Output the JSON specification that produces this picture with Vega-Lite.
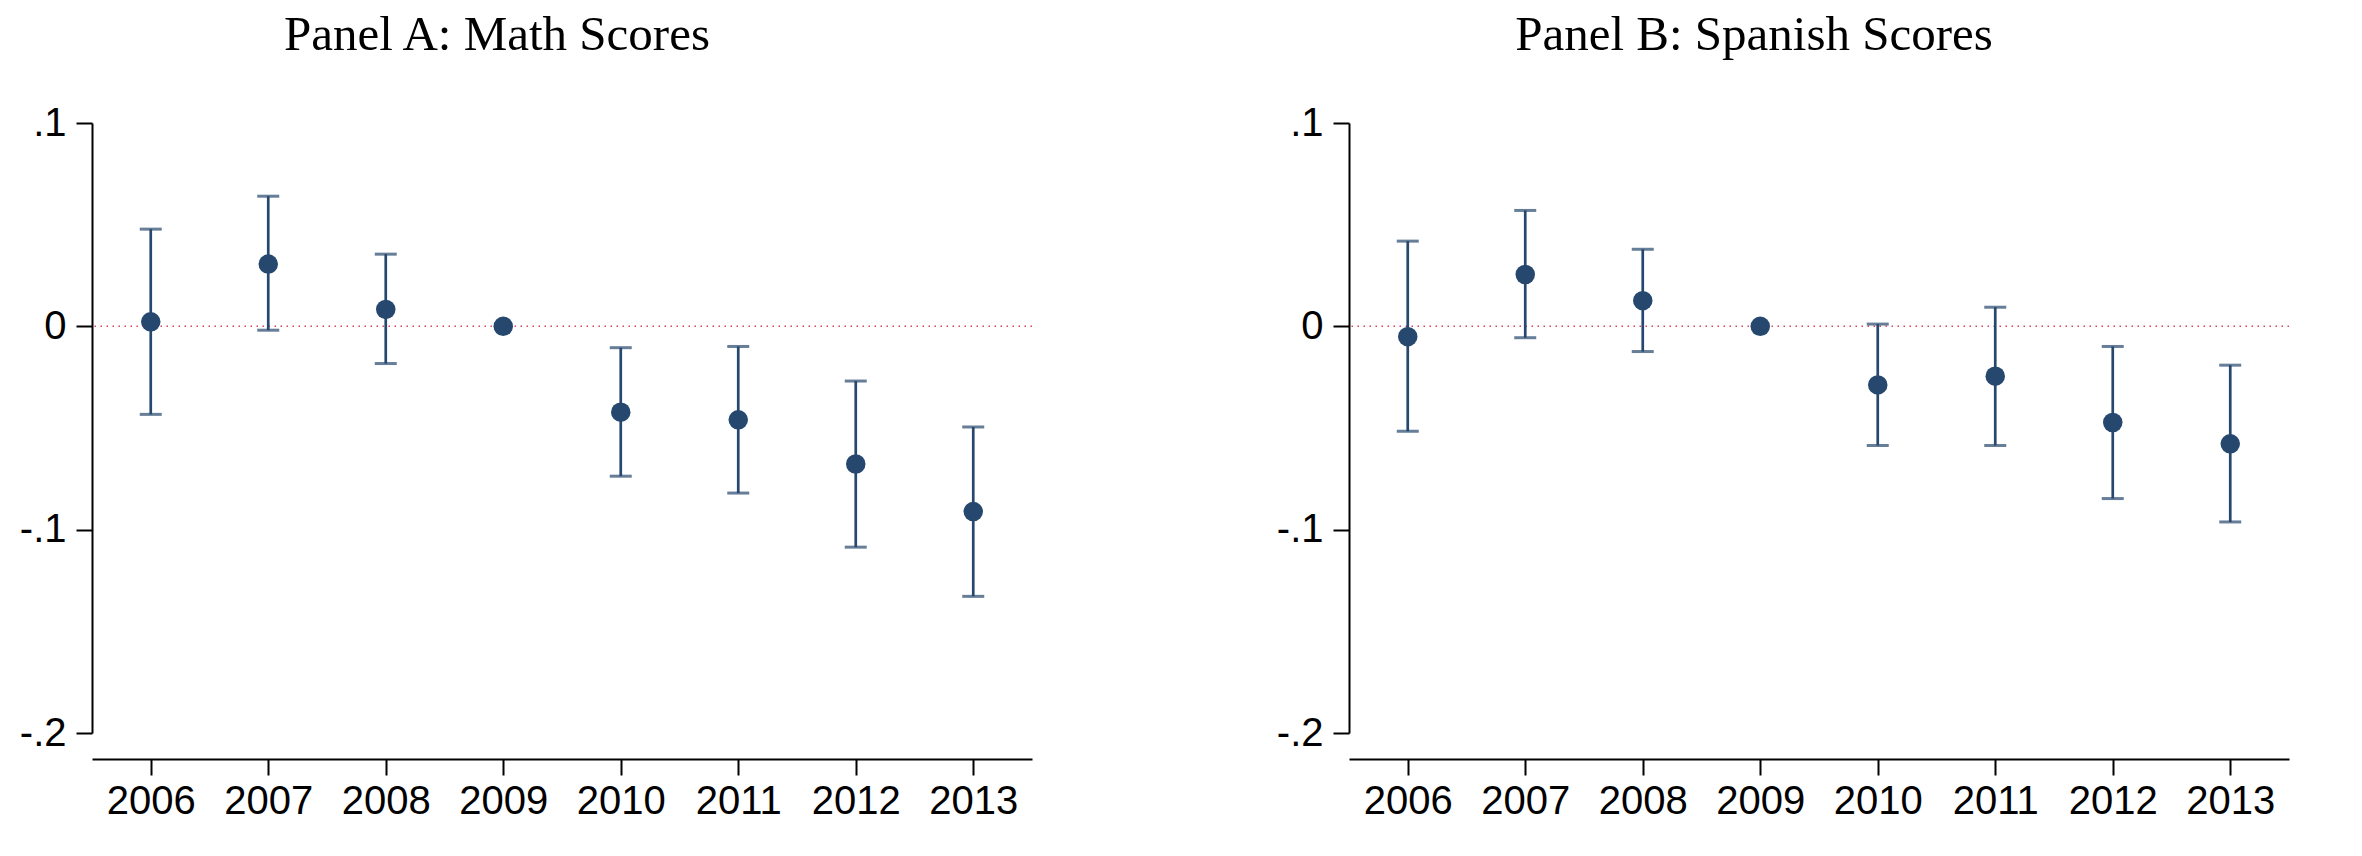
{
  "$schema": "https://vega.github.io/schema/vega-lite/v6.json",
  "background": "white",
  "padding": {"left": 12, "top": 11, "right": 10, "bottom": 10},
  "spacing": 236,
  "datasets": {
    "math": [
      {"year": "2006", "est": 0.0022, "hi": 0.0478, "lo": -0.0433},
      {"year": "2007", "est": 0.0306, "hi": 0.064, "lo": -0.0019},
      {"year": "2008", "est": 0.0083, "hi": 0.0355, "lo": -0.0183},
      {"year": "2009", "est": 0, "hi": null, "lo": null},
      {"year": "2010", "est": -0.0422, "hi": -0.0105, "lo": -0.0737},
      {"year": "2011", "est": -0.046, "hi": -0.0099, "lo": -0.082},
      {"year": "2012", "est": -0.0677, "hi": -0.0269, "lo": -0.1086},
      {"year": "2013", "est": -0.0911, "hi": -0.0495, "lo": -0.1328}
    ],
    "spanish": [
      {"year": "2006", "est": -0.0051, "hi": 0.0419, "lo": -0.0516},
      {"year": "2007", "est": 0.0255, "hi": 0.057, "lo": -0.0056},
      {"year": "2008", "est": 0.0126, "hi": 0.0379, "lo": -0.0124},
      {"year": "2009", "est": 0, "hi": null, "lo": null},
      {"year": "2010", "est": -0.0288, "hi": 0.0011, "lo": -0.0586},
      {"year": "2011", "est": -0.0245, "hi": 0.0094, "lo": -0.0586},
      {"year": "2012", "est": -0.0473, "hi": -0.0099, "lo": -0.0847},
      {"year": "2013", "est": -0.0578, "hi": -0.0191, "lo": -0.0962}
    ],
    "zero": [{"z": 0}]
  },
  "config": {
    "view": {"stroke": null},
    "title": {"font": "Liberation Serif", "fontSize": 49, "fontWeight": "normal", "color": "black", "anchor": "middle", "dx": -65, "offset": 43},
    "axis": {
      "domainColor": "black", "domainWidth": 2, "tickColor": "black", "tickWidth": 2, "tickSize": 16,
      "labelFont": "Liberation Sans", "labelFontSize": 40, "labelColor": "black", "grid": false, "title": null
    }
  },
  "hconcat": [
    {
      "title": {"text": "Panel A: Math Scores"},
      "width": 940,
      "height": 610,
      "layer": [
        {
          "data": {"name": "zero"},
          "mark": {"type": "rule", "color": "#d9455f", "strokeWidth": 1.5, "strokeDash": [1.5, 4.5]},
          "encoding": {"y": {"field": "z", "type": "quantitative", "scale": {"domain": [-0.2, 0.1], "nice": false, "zero": false}}}
        },
        {
          "data": {"name": "math"},
          "mark": {"type": "rule", "color": "#26476e", "strokeWidth": 2.7},
          "encoding": {
            "x": {"field": "year", "type": "ordinal", "scale": {"type": "point", "padding": 0.5}, "axis": {"offset": 26, "labelAngle": 0, "labelPadding": 6}},
            "y": {"field": "lo", "type": "quantitative"},
            "y2": {"field": "hi"}
          }
        },
        {
          "data": {"name": "math"},
          "mark": {"type": "tick", "color": "#26476e", "size": 22, "thickness": 3},
          "encoding": {
            "x": {"field": "year", "type": "ordinal"},
            "y": {"field": "lo", "type": "quantitative"}
          }
        },
        {
          "data": {"name": "math"},
          "mark": {"type": "tick", "color": "#26476e", "size": 22, "thickness": 3},
          "encoding": {
            "x": {"field": "year", "type": "ordinal"},
            "y": {"field": "hi", "type": "quantitative"}
          }
        },
        {
          "data": {"name": "math"},
          "mark": {"type": "circle", "color": "#26476e", "opacity": 1, "size": 380},
          "encoding": {
            "x": {"field": "year", "type": "ordinal"},
            "y": {"field": "est", "type": "quantitative", "scale": {"domain": [-0.2, 0.1], "nice": false, "zero": false},
              "axis": {"values": [-0.2, -0.1, 0, 0.1], "labelPadding": 10, "minExtent": 80, "maxExtent": 80,
                "labelExpr": "datum.value > 0.05 ? '.1' : datum.value < -0.15 ? '-.2' : datum.value < -0.05 ? '-.1' : '0'"}}
          }
        }
      ]
    },
    {
      "title": {"text": "Panel B: Spanish Scores"},
      "width": 940,
      "height": 610,
      "layer": [
        {
          "data": {"name": "zero"},
          "mark": {"type": "rule", "color": "#d9455f", "strokeWidth": 1.5, "strokeDash": [1.5, 4.5]},
          "encoding": {"y": {"field": "z", "type": "quantitative", "scale": {"domain": [-0.2, 0.1], "nice": false, "zero": false}}}
        },
        {
          "data": {"name": "spanish"},
          "mark": {"type": "rule", "color": "#26476e", "strokeWidth": 2.7},
          "encoding": {
            "x": {"field": "year", "type": "ordinal", "scale": {"type": "point", "padding": 0.5}, "axis": {"offset": 26, "labelAngle": 0, "labelPadding": 6}},
            "y": {"field": "lo", "type": "quantitative"},
            "y2": {"field": "hi"}
          }
        },
        {
          "data": {"name": "spanish"},
          "mark": {"type": "tick", "color": "#26476e", "size": 22, "thickness": 3},
          "encoding": {
            "x": {"field": "year", "type": "ordinal"},
            "y": {"field": "lo", "type": "quantitative"}
          }
        },
        {
          "data": {"name": "spanish"},
          "mark": {"type": "tick", "color": "#26476e", "size": 22, "thickness": 3},
          "encoding": {
            "x": {"field": "year", "type": "ordinal"},
            "y": {"field": "hi", "type": "quantitative"}
          }
        },
        {
          "data": {"name": "spanish"},
          "mark": {"type": "circle", "color": "#26476e", "opacity": 1, "size": 380},
          "encoding": {
            "x": {"field": "year", "type": "ordinal"},
            "y": {"field": "est", "type": "quantitative", "scale": {"domain": [-0.2, 0.1], "nice": false, "zero": false},
              "axis": {"values": [-0.2, -0.1, 0, 0.1], "labelPadding": 10, "minExtent": 80, "maxExtent": 80,
                "labelExpr": "datum.value > 0.05 ? '.1' : datum.value < -0.15 ? '-.2' : datum.value < -0.05 ? '-.1' : '0'"}}
          }
        }
      ]
    }
  ]
}
